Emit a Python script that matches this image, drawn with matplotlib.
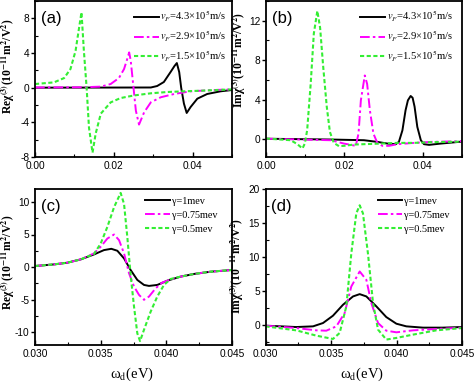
import matplotlib
matplotlib.use("Agg")
import matplotlib.pyplot as plt
from matplotlib.ticker import MultipleLocator, FormatStrFormatter

plt.rcParams['mathtext.fontset'] = 'stix'
plt.rcParams['axes.unicode_minus'] = False
plt.rcParams['font.family'] = ['Liberation Sans', 'DejaVu Sans']

# ---------------- data ----------------
# (a) Re chi(3) vs omega for different vF
a_x_43 = [0.0, 0.0294, 0.0310, 0.0327, 0.0344, 0.0354, 0.0360, 0.0366, 0.0371, 0.0378, 0.0385, 0.0395, 0.0412, 0.0437, 0.0471, 0.050]
a_y_43 = [0.0, 0.02, 0.19, 0.65, 1.8, 2.5, 2.84, 1.8, 0.0, -1.84, -2.92, -2.23, -1.27, -0.73, -0.42, -0.27]
a_x_29 = [0.0, 0.0124, 0.0167, 0.0192, 0.0213, 0.0226, 0.0234, 0.0239, 0.0243, 0.0250, 0.0256, 0.0264, 0.0277, 0.0294, 0.0319, 0.0353, 0.0395, 0.0454, 0.050]
a_y_29 = [0.02, 0.05, 0.12, 0.42, 1.11, 2.15, 3.3, 4.07, 3.11, 0.0, -2.65, -4.26, -2.84, -1.69, -1.11, -0.73, -0.42, -0.27, -0.2]
a_x_15 = [0.0, 0.0048, 0.0074, 0.0090, 0.0103, 0.0112, 0.0118, 0.0124, 0.0131, 0.0137, 0.0146, 0.0154, 0.0167, 0.0192, 0.0217, 0.0251, 0.0294, 0.0336, 0.0378, 0.0421, 0.050]
a_y_15 = [0.42, 0.61, 1.11, 2.15, 4.26, 6.95, 8.7, 4.3, 0.0, -4.6, -7.5, -5.3, -3.0, -1.7, -1.2, -0.9, -0.65, -0.5, -0.42, -0.35, -0.2]

# (b) Im chi(3) vs omega for different vF
b_x_43 = [0.0, 0.0165, 0.0250, 0.0284, 0.0310, 0.0331, 0.0339, 0.0348, 0.0356, 0.0362, 0.0369, 0.0374, 0.0379, 0.0386, 0.0395, 0.0403, 0.0416, 0.0446, 0.050]
b_y_43 = [0.05, -0.03, -0.1, -0.27, -0.44, -0.5, -0.27, 0.9, 2.93, 3.94, 4.38, 4.2, 3.3, 1.25, -0.1, -0.5, -0.57, -0.44, -0.24]
b_x_29 = [0.0, 0.0165, 0.0199, 0.0220, 0.0229, 0.0236, 0.0242, 0.0252, 0.0258, 0.0265, 0.0274, 0.0284, 0.0297, 0.0314, 0.0335, 0.0378, 0.0420, 0.050]
b_y_29 = [0.05, -0.1, -0.44, -0.6, -0.67, 0.57, 3.94, 6.46, 5.6, 2.93, 0.57, -0.37, -0.67, -0.67, -0.5, -0.37, -0.27, -0.2]
b_x_15 = [0.0, 0.0063, 0.0080, 0.0093, 0.0099, 0.0105, 0.0114, 0.0122, 0.0131, 0.0138, 0.0146, 0.0155, 0.0163, 0.0173, 0.0186, 0.0199, 0.0224, 0.0250, 0.0293, 0.0335, 0.0378, 0.0420, 0.050]
b_y_15 = [0.07, -0.1, -0.5, -0.94, -0.44, 0.91, 5.6, 10.7, 13.0, 11.3, 7.3, 3.3, 0.74, -0.37, -0.7, -0.67, -0.54, -0.5, -0.44, -0.37, -0.37, -0.3, -0.24]

# (c) Re chi(3) vs omega for different gamma
c_x_g1 = [0.030, 0.03145, 0.03246, 0.03348, 0.03449, 0.03525, 0.03581, 0.03627, 0.03678, 0.03728, 0.03779, 0.0383, 0.03868, 0.03931, 0.04008, 0.04109, 0.04211, 0.04338, 0.045]
c_y_g1 = [0.15, 0.4, 0.66, 1.17, 1.93, 2.6, 2.8, 2.5, 1.32, -0.46, -1.99, -2.76, -2.91, -2.76, -2.1, -1.48, -1.07, -0.72, -0.46]
c_x_g075 = [0.030, 0.03145, 0.03246, 0.03348, 0.03449, 0.0350, 0.03551, 0.03602, 0.0364, 0.03678, 0.03716, 0.03754, 0.03792, 0.0383, 0.03868, 0.03919, 0.03969, 0.04008, 0.04109, 0.04211, 0.04338, 0.045]
c_y_g075 = [0.15, 0.4, 0.66, 1.17, 2.09, 3.11, 4.38, 5.0, 4.13, 2.09, -0.97, -3.01, -4.29, -5.05, -4.55, -3.27, -2.4, -2.1, -1.48, -1.07, -0.72, -0.46]
c_x_g05 = [0.030, 0.03145, 0.03246, 0.03348, 0.03449, 0.0350, 0.03551, 0.03602, 0.03652, 0.03678, 0.03703, 0.03728, 0.03754, 0.03779, 0.0380, 0.0383, 0.03881, 0.03931, 0.03982, 0.04033, 0.04109, 0.04211, 0.04338, 0.045]
c_y_g05 = [0.15, 0.4, 0.66, 1.17, 2.0, 3.6, 6.17, 9.2, 11.4, 9.7, 4.6, -1.2, -6.1, -10.2, -11.4, -9.65, -6.85, -4.55, -2.76, -1.84, -1.48, -1.07, -0.72, -0.46]

# (d) Im chi(3) vs omega for different gamma
d_x_g1 = [0.030, 0.03235, 0.03363, 0.03439, 0.03515, 0.03592, 0.03668, 0.03719, 0.0377, 0.03846, 0.03922, 0.03999, 0.04075, 0.04202, 0.04355, 0.045]
d_y_g1 = [-0.15, -0.35, -0.25, 0.24, 1.32, 2.94, 4.16, 4.5, 4.16, 2.7, 1.12, 0.14, -0.25, -0.44, -0.44, -0.35]
d_x_g075 = [0.030, 0.03235, 0.03388, 0.03464, 0.03541, 0.03604, 0.03655, 0.03719, 0.0377, 0.03808, 0.03859, 0.03922, 0.03999, 0.04126, 0.04304, 0.045]
d_y_g075 = [-0.15, -0.5, -0.84, -0.89, -0.25, 1.71, 5.63, 7.84, 6.6, 3.18, 0.24, -0.89, -1.13, -0.84, -0.64, -0.44]
d_x_g05 = [0.030, 0.03235, 0.03388, 0.03515, 0.03566, 0.03617, 0.03655, 0.03693, 0.03719, 0.03744, 0.03782, 0.03821, 0.03859, 0.03922, 0.03999, 0.04126, 0.04304, 0.045]
d_y_g05 = [-0.25, -0.84, -1.62, -2.11, -1.23, 2.7, 10.5, 16.4, 17.6, 16.4, 10.5, 3.18, -0.73, -2.2, -1.96, -1.47, -0.84, -0.5]

vf_labels = ["$v_F$=4.3×10$^5$m/s", "$v_F$=2.9×10$^5$m/s", "$v_F$=1.5×10$^5$m/s"]
g_labels = ["γ=1mev", "γ=0.75mev", "γ=0.5mev"]
panel_labels = ["(a)", "(b)", "(c)", "(d)"]
ylab_re = "Reχ$^{\\mathbf{(3)}}$(10$^{\\mathbf{-11}}$m$^{\\mathbf{2}}$/V$^{\\mathbf{2}}$)"
ylab_im = "Imχ$^{\\mathbf{(3)}}$(10$^{\\mathbf{-11}}$m$^{\\mathbf{2}}$/V$^{\\mathbf{2}}$)"
xlab = "ω$_\\mathrm{d}$(eV)"

# ---------------- styles ----------------
BLACK = dict(color='black', lw=1.4, ls='-')
MAG = dict(color='#ff00ff', lw=1.4, ls=(0, (5, 1.6, 1.3, 1.6)))
GRN = dict(color='#33ee33', lw=1.5, ls=(0, (2.0, 1.2)))

W, H = 474, 382
fig = plt.figure(figsize=(W / 100, H / 100), dpi=100)

def add_ax(l, r, t, b):
    return fig.add_axes([l / W, 1 - b / H, (r - l) / W, (b - t) / H])

axa = add_ax(35, 232, 1, 157)
axb = add_ax(266, 462, 1, 157)
axc = add_ax(35, 232, 189, 345)
axd = add_ax(265.5, 462, 189, 345)

serif = ['Liberation Serif', 'DejaVu Serif']
sans = 'Liberation Sans'

def style(ax, xlim, ylim, xmaj, xmin, ymaj, ymin, xfmt):
    ax.set_xlim(*xlim)
    ax.set_ylim(*ylim)
    ax.xaxis.set_major_locator(MultipleLocator(xmaj))
    ax.xaxis.set_minor_locator(MultipleLocator(xmin))
    ax.yaxis.set_major_locator(MultipleLocator(ymaj))
    ax.yaxis.set_minor_locator(MultipleLocator(ymin))
    ax.xaxis.set_major_formatter(FormatStrFormatter(xfmt))
    ax.yaxis.set_major_formatter(FormatStrFormatter('%d'))
    ax.tick_params(axis='x', which='major', direction='in', length=3.5, width=1,
                   labelsize=7.3, pad=3, labelfontfamily=sans)
    ax.tick_params(axis='x', which='minor', direction='in', length=2, width=0.8)
    ax.tick_params(axis='y', which='major', direction='out', length=3.0, width=1,
                   labelsize=7.3, pad=1.0, labelfontfamily=sans)
    ax.tick_params(axis='y', which='minor', direction='in', length=2, width=0.8)
    for s in ax.spines.values():
        s.set_linewidth(1.3)

def draw(ax, xs, ys, labels, legx, legy, fs):
    for x, y, st, lab in zip(xs, ys, [BLACK, MAG, GRN], labels):
        ax.plot(x, y, label=lab, **st)
    ax.legend(loc='upper left', bbox_to_anchor=(legx, legy), frameon=False,
              prop={'family': serif, 'size': fs}, handlelength=2.4,
              handletextpad=0.15, labelspacing=0.45, borderaxespad=0, borderpad=0)

draw(axa, [a_x_43, a_x_29, a_x_15], [a_y_43, a_y_29, a_y_15], vf_labels, 0.50, 0.95, 7.6)
draw(axb, [b_x_43, b_x_29, b_x_15], [b_y_43, b_y_29, b_y_15], vf_labels, 0.48, 0.95, 7.6)
draw(axc, [c_x_g1, c_x_g075, c_x_g05], [c_y_g1, c_y_g075, c_y_g05], g_labels, 0.56, 0.95, 7.4)
draw(axd, [d_x_g1, d_x_g075, d_x_g05], [d_y_g1, d_y_g075, d_y_g05], g_labels, 0.57, 0.95, 7.4)

style(axa, (0, 0.05), (-8, 10), 0.02, 0.01, 4, 2, '%.2f')
style(axb, (0, 0.05), (-1.8, 14), 0.02, 0.01, 4, 2, '%.2f')
style(axc, (0.030, 0.045), (-12, 12), 0.005, 0.0025, 5, 2.5, '%.3f')
style(axd, (0.030, 0.045), (-3, 20), 0.005, 0.0025, 5, 2.5, '%.3f')

for ax, lab in zip([axa, axb, axc, axd], panel_labels):
    ax.text(0.03, 0.935, lab, transform=ax.transAxes, fontsize=12, va='top', ha='left',
            family=sans)

ylfs = 8.4
axa.set_ylabel(ylab_re, fontsize=ylfs, fontweight='bold', family=serif)
axa.yaxis.set_label_coords(-0.09, 0.58)
axb.set_ylabel(ylab_im, fontsize=ylfs, fontweight='bold', family=serif)
axb.yaxis.set_label_coords(-0.093, 0.62)
axc.set_ylabel(ylab_re, fontsize=ylfs, fontweight='bold', family=serif)
axc.yaxis.set_label_coords(-0.09, 0.53)
axd.set_ylabel(ylab_im, fontsize=ylfs, fontweight='bold', family=serif)
axd.yaxis.set_label_coords(-0.097, 0.51)

for ax in (axc, axd):
    ax.set_xlabel(xlab, fontsize=10.5, family=serif)
    ax.xaxis.set_label_coords(0.49, -0.13)

fig.savefig('out.png', dpi=100)
